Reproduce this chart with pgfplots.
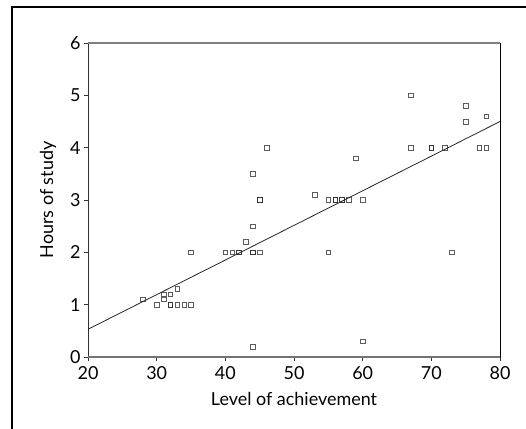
\documentclass[border=0pt]{standalone}
\usepackage{pgfplots}
\pgfplotsset{compat=1.18}
\usepackage{fontspec}
\setmainfont{Lato}
\pgfplotstableread{
x y
28 1.1
30 1.0
31 1.2
31 1.1
32 1.2
32 1.0
32 1.0
33 1.3
33 1.0
34 1.0
35 1.0
35 2.0
40 2.0
41 2.0
42 2.0
42 2.0
43 2.2
44 2.0
44 2.0
45 2.0
44 2.5
44 0.2
44 3.5
45 3.0
45 3.0
46 4.0
53 3.1
55 3.0
56 3.0
56 3.0
57 3.0
57 3.0
58 3.0
60 3.0
55 2.0
59 3.8
60 0.3
67 5.0
67 4.0
70 4.0
70 4.0
72 4.0
73 2.0
75 4.8
75 4.5
77 4.0
78 4.0
78 4.6
}\datatable
\begin{document}
\begin{tikzpicture}[x=1bp,y=1bp]
\useasboundingbox (0,0) rectangle (526,428);
\draw[line width=2bp] (12,-20) -- (12,421) -- (560,421);
\begin{axis}[
  at={(88bp,71bp)}, anchor=south west,
  scale only axis, width=412bp, height=314bp,
  xmin=20, xmax=80, ymin=0, ymax=6,
  xtick={20,30,...,80}, ytick={0,1,...,6},
  axis line style={draw=none},
  tick align=outside,
  major tick length=4bp,
  tick style={line width=0.8bp, black!80},
  xtick pos=bottom, ytick pos=left,
  tick label style={font=\fontsize{18}{18}\selectfont},
  label style={font=\fontsize{18}{18}\selectfont},
  xticklabel style={yshift=-2bp},
  xlabel={Level of achievement},
  ylabel={Hours of study},
  xlabel shift=6bp,
  ylabel shift=7bp,
  /pgf/number format/assume math mode=true,
  clip=false,
]
\draw[line width=0.9bp, black!80] (axis cs:20,0) -- (axis cs:20,6);
\draw[line width=1.4bp, black!55] (axis cs:20,0) -- (axis cs:80,0);
\draw[line width=2bp, black!50] (axis cs:20,6) -- (axis cs:80,6);
\draw[line width=1bp, black] (axis cs:80,0) -- (axis cs:80,6);
\addplot[only marks, mark=square, mark size=2.3bp,
  mark options={draw=black!85, line width=0.6bp, draw opacity=0.75}]
  table[x=x,y=y]{\datatable};
\addplot[black!85, line width=0.8bp] coordinates {(20,0.53) (80,4.5)};
\end{axis}
\end{tikzpicture}
\end{document}
